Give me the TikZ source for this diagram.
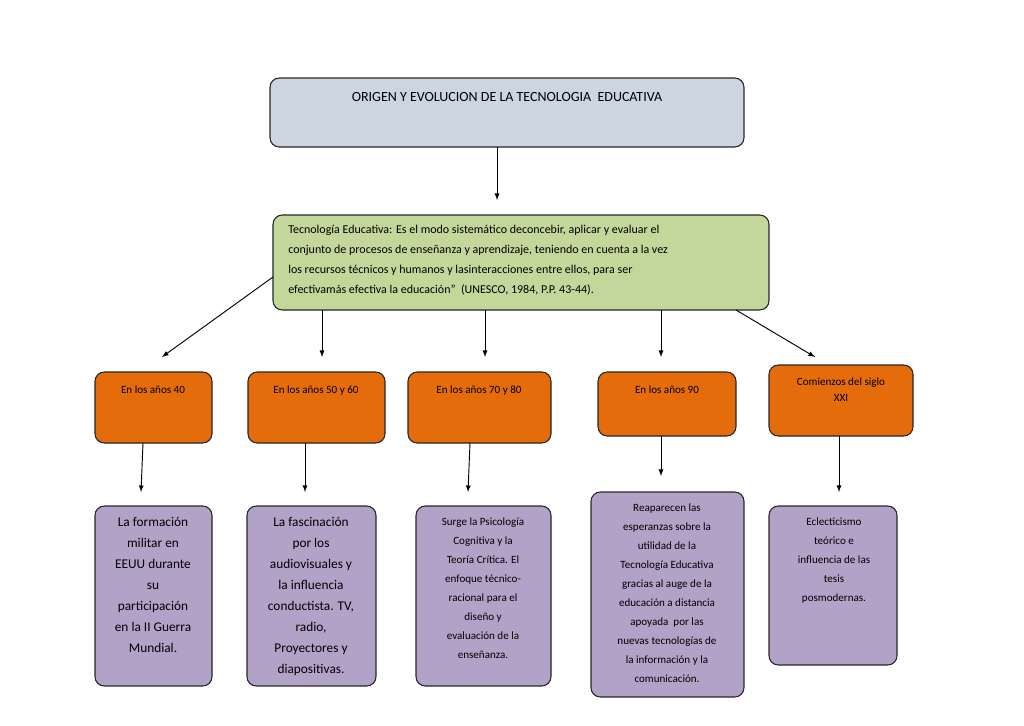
\documentclass[tikz,border=0pt]{standalone}
\usepackage{fontspec}
\setmainfont{Carlito}
\usetikzlibrary{fit}
\begin{document}
\begin{tikzpicture}[x=0.75pt,y=-0.75pt,
 box/.style={draw=black!85,line width=0.8pt,rounded corners=7pt,inner sep=0pt},
 arr/.style={-latex,line width=0.7pt},
 otext/.style={font=\fontsize{8.3}{12}\selectfont,align=center,anchor=north},
 pbig/.style={font=\fontsize{10}{15.8}\selectfont,align=center,anchor=north,inner sep=0},
 psmall/.style={font=\fontsize{8.3}{14.2}\selectfont,align=center,anchor=north,inner sep=0}]
\useasboundingbox (0,0) rectangle (1024,725);
\definecolor{tb}{HTML}{CDD5E1}\definecolor{gr}{HTML}{C3D79B}
\definecolor{og}{HTML}{E46C0A}\definecolor{pu}{HTML}{B3A2C7}
\node[box,fill=tb,fit={(270,78)(744,147)}] (t) {};
\node[font=\fontsize{10.5}{13}\selectfont] at (507,97) {ORIGEN Y EVOLUCION DE LA TECNOLOGIA\ \ EDUCATIVA};
\node[box,fill=gr,fit={(273,215)(769,310)}] (d) {};
\node[anchor=north west,inner sep=0,align=left,font=\fontsize{9}{15}\selectfont] at (288,225) {Tecnología Educativa: Es el modo sistemático deconcebir, aplicar y evaluar el\\conjunto de procesos de enseñanza y aprendizaje, teniendo en cuenta a la vez\\los recursos técnicos y humanos y lasinteracciones entre ellos, para ser\\efectivamás efectiva la educación"\ \ (UNESCO, 1984, P.P. 43-44).};
\coordinate (ta) at (497,147); \coordinate (tb2) at (497,200);
\draw[arr] (ta) -- (tb2);
% orange
\node[box,fill=og,fit={(95,372)(212,443)}] (o1) {};
\node[box,fill=og,fit={(248,372)(385,443)}] (o2) {};
\node[box,fill=og,fit={(408,372)(551,443)}] (o3) {};
\node[box,fill=og,fit={(598,372)(736,436)}] (o4) {};
\node[box,fill=og,fit={(769,365)(913,436)}] (o5) {};
\node[otext] at (153,381) {En los años 40};
\node[otext] at (316,381) {En los años 50 y 60};
\node[otext] at (479,381) {En los años 70 y 80};
\node[otext] at (667,381) {En los años 90};
\node[otext] at (841,373) {Comienzos del siglo\\XXI};
% arrows from def
\coordinate (a1) at (273,277); \coordinate (b1) at (162,357);
\coordinate (a2) at (322,310); \coordinate (b2) at (322,357);
\coordinate (a3) at (485,310); \coordinate (b3) at (485,357);
\coordinate (a4) at (661,310); \coordinate (b4) at (661,357);
\coordinate (a5) at (736,310); \coordinate (b5) at (815,357);
\foreach \i in {1,...,5} \draw[arr] (a\i) -- (b\i);
% purple
\node[box,fill=pu,fit={(95,506)(212,686)}] (p1) {};
\node[box,fill=pu,fit={(247,506)(376,686)}] (p2) {};
\node[box,fill=pu,fit={(416,506)(551,686)}] (p3) {};
\node[box,fill=pu,fit={(591,492)(744,697)}] (p4) {};
\node[box,fill=pu,fit={(769,506)(897,665)}] (p5) {};
\coordinate (c1) at (143,443); \coordinate (e1) at (141,492);
\coordinate (c2) at (305,443); \coordinate (e2) at (305,492);
\coordinate (c3) at (470,443); \coordinate (e3) at (468,492);
\coordinate (c4) at (661,436); \coordinate (e4) at (661,476);
\coordinate (c5) at (839,436); \coordinate (e5) at (839,492);
\foreach \i in {1,...,5} \draw[arr] (c\i) -- (e\i);
\node[pbig] at (153,517) {La formación\\militar en\\EEUU durante\\su\\participación\\en la II Guerra\\Mundial.};
\node[pbig] at (311,517) {La fascinación\\por los\\audiovisuales y\\la influencia\\conductista. TV,\\radio,\\Proyectores y\\diapositivas.};
\node[psmall] at (483,518) {Surge la Psicología\\Cognitiva y la\\Teoría Crítica. El\\enfoque técnico-\\racional para el\\diseño y\\evaluación de la\\enseñanza.};
\node[psmall] at (667,504) {Reaparecen las\\esperanzas sobre la\\utilidad de la\\Tecnología Educativa\\gracias al auge de la\\educación a distancia\\apoyada\ \ por las\\nuevas tecnologías de\\la información y la\\comunicación.};
\node[psmall] at (834,518) {Eclecticismo\\teórico e\\influencia de las\\tesis\\posmodernas.};
\end{tikzpicture}
\end{document}
